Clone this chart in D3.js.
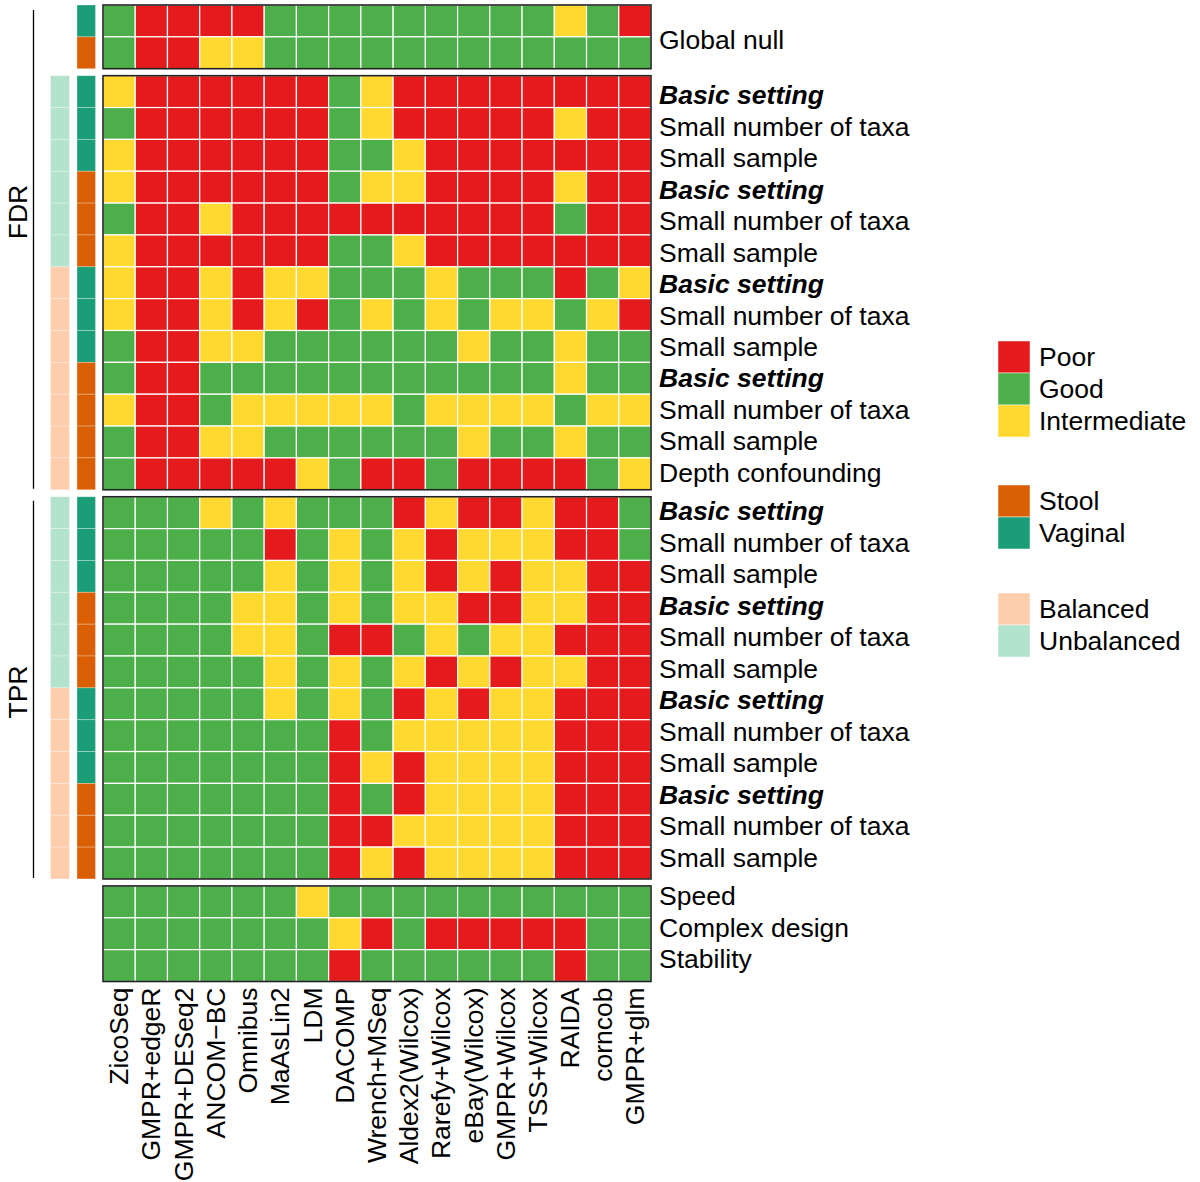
<!DOCTYPE html>
<html>
<head>
<meta charset="utf-8">
<script src="https://cdn.jsdelivr.net/npm/d3@7"></script>
<style>
body { margin: 0; background: #fff; }
svg text { font-family: "Liberation Sans", Arial, Helvetica, sans-serif; fill: #000; }
.cell { stroke: #fff; stroke-width: 1.2; }
.frame { fill: none; stroke: #222; stroke-width: 1.6; }
</style>
</head>
<body>
<div id="chart"></div>
<script>
// methods (columns)
var methods = ["ZicoSeq", "GMPR+edgeR", "GMPR+DESeq2", "ANCOM\u2212BC", "Omnibus", "MaAsLin2", "LDM",
  "DACOMP", "Wrench+MSeq", "Aldex2(Wilcox)", "Rarefy+Wilcox", "eBay(Wilcox)", "GMPR+Wilcox",
  "TSS+Wilcox", "RAIDA", "corncob", "GMPR+glm"];

// P = Poor, G = Good, I = Intermediate
var globalNull = ["GPPPPGGGGGGGGGIGP", "GPPIIGGGGGGGGGGGG"];
var globalSample = ["Vaginal", "Stool"];

var fdrRows = [
  "IPPPPPPGIPPPPPPPP", "GPPPPPPGIPPPPPIPP", "IPPPPPPGGIPPPPPPP",
  "IPPPPPPGIIPPPPIPP", "GPPIPPPPPPPPPPGPP", "IPPPPPPGGIPPPPPPP",
  "IPPIPIIGGGIGGGPGI", "IPPIPIPGIGIGIIGIP", "GPPIIGGGGGGIGGIGG",
  "GPPGGGGGGGGGGGIGG", "IPPGIIIIIGIIIIGII", "GPPIIGGGGGGIGGIGG",
  "GPPPPPIGPPGPPPPGI"];
var fdrLabels = ["Basic setting", "Small number of taxa", "Small sample",
  "Basic setting", "Small number of taxa", "Small sample",
  "Basic setting", "Small number of taxa", "Small sample",
  "Basic setting", "Small number of taxa", "Small sample", "Depth confounding"];
var fdrSample = ["Vaginal", "Vaginal", "Vaginal", "Stool", "Stool", "Stool",
  "Vaginal", "Vaginal", "Vaginal", "Stool", "Stool", "Stool", "Stool"];
var fdrBalance = ["Unbalanced", "Unbalanced", "Unbalanced", "Unbalanced", "Unbalanced", "Unbalanced",
  "Balanced", "Balanced", "Balanced", "Balanced", "Balanced", "Balanced", "Balanced"];

var tprRows = [
  "GGGIGIGGGPIPPIPPG", "GGGGGPGIGIPIIIPPG", "GGGGGIGIGIPIPIIPP",
  "GGGGIIGIGIIPPIIPP", "GGGGIIGPPGIGIIPPP", "GGGGGIGIGIPIPIIPP",
  "GGGGGIGIGPIPIIPPP", "GGGGGGGPGIIIIIPPP", "GGGGGGGPIPIIIIPPP",
  "GGGGGGGPGPIIIIPPP", "GGGGGGGPPIIIIIPPP", "GGGGGGGPIPIIIIPPP"];
var tprLabels = fdrLabels.slice(0, 12);
var tprSample = fdrSample.slice(0, 12);
var tprBalance = ["Unbalanced", "Unbalanced", "Unbalanced", "Unbalanced", "Unbalanced", "Unbalanced",
  "Balanced", "Balanced", "Balanced", "Balanced", "Balanced", "Balanced"];

var extraRows = ["GGGGGGIGGGGGGGGGG", "GGGGGGGIPGPPPPPGG", "GGGGGGGPGGGGGGPGG"];
var extraLabels = ["Speed", "Complex design", "Stability"];

var levels = ["Poor", "Good", "Intermediate"];
var codes = {P: "Poor", G: "Good", I: "Intermediate"};
var sampleTypes = ["Stool", "Vaginal"];
var balanceTypes = ["Balanced", "Unbalanced"];

var width = 1200, height = 1182;
var rowH = 31.85, gap = 7, top0 = 5;
var fs = 26.5;

var perfColor = d3.scaleOrdinal().domain(levels).range(["#E41A1C", "#4DAF4A", "#FFD92F"]);
var sampleColor = d3.scaleOrdinal().domain(sampleTypes).range(["#D95F02", "#1B9E77"]);
var balanceColor = d3.scaleOrdinal().domain(balanceTypes).range(["#FDCDAC", "#B3E2CD"]);

var x = d3.scaleBand().domain(methods).range([103, 651]);

// row labels sit a touch tighter than the rows themselves
function labelY(yc) { return yc + 3.5 - 0.0115 * (yc - 92); }

var svg = d3.select("#chart").append("svg")
  .attr("width", width).attr("height", height);

// blocks of the heatmap, stacked vertically
var blocks = [
  {rows: globalNull, labels: null, sample: globalSample, balance: null},
  {rows: fdrRows, labels: fdrLabels, sample: fdrSample, balance: fdrBalance},
  {rows: tprRows, labels: tprLabels, sample: tprSample, balance: tprBalance},
  {rows: extraRows, labels: extraLabels, sample: null, balance: null}
];

var yTop = top0;
blocks.forEach(function(b) {
  var idx = d3.range(b.rows.length);
  b.y = d3.scaleBand().domain(idx).range([yTop, yTop + b.rows.length * rowH]);
  b.top = yTop;
  b.bottom = yTop + b.rows.length * rowH;
  yTop = b.bottom + gap;

  var g = svg.append("g");
  var cells = [];
  b.rows.forEach(function(r, i) {
    r.split("").forEach(function(c, j) {
      cells.push({row: i, method: methods[j], value: codes[c]});
    });
  });
  g.selectAll("rect.cell").data(cells).enter().append("rect")
    .attr("class", "cell")
    .attr("x", function(d) { return x(d.method); })
    .attr("y", function(d) { return b.y(d.row); })
    .attr("width", x.bandwidth())
    .attr("height", b.y.bandwidth())
    .attr("fill", function(d) { return perfColor(d.value); });
  g.append("rect").attr("class", "frame")
    .attr("x", x.range()[0]).attr("y", b.top)
    .attr("width", x.range()[1] - x.range()[0]).attr("height", b.bottom - b.top);

  // annotation columns
  if (b.sample) {
    svg.append("g").selectAll("rect").data(b.sample).enter().append("rect")
      .attr("x", 77).attr("width", 18.5)
      .attr("y", function(d, i) { return b.y(i); })
      .attr("height", b.y.bandwidth())
      .attr("fill", function(d) { return sampleColor(d); })
      .attr("stroke", "rgba(255,255,255,0.35)").attr("stroke-width", 0.8);
  }
  if (b.balance) {
    svg.append("g").selectAll("rect").data(b.balance).enter().append("rect")
      .attr("x", 50.5).attr("width", 19)
      .attr("y", function(d, i) { return b.y(i); })
      .attr("height", b.y.bandwidth())
      .attr("fill", function(d) { return balanceColor(d); })
      .attr("stroke", "rgba(255,255,255,0.35)").attr("stroke-width", 0.8);
  }

  // row labels
  if (b.labels) {
    svg.append("g").selectAll("text").data(b.labels).enter().append("text")
      .attr("x", 659)
      .attr("y", function(d, i) { return labelY(b.y(i) + b.y.bandwidth() / 2); })
      .attr("dominant-baseline", "central")
      .style("font-size", fs + "px")
      .style("font-weight", function(d) { return d === "Basic setting" ? "bold" : "normal"; })
      .style("font-style", function(d) { return d === "Basic setting" ? "italic" : "normal"; })
      .text(function(d) { return d; });
  }
});

// global null label spans the whole first block
svg.append("text")
  .attr("x", 659).attr("y", (blocks[0].top + blocks[0].bottom) / 2 + 3.5)
  .attr("dominant-baseline", "central")
  .style("font-size", fs + "px")
  .text("Global null");

// FDR / TPR group lines and titles
var groups = [
  {name: "FDR", y0: 10, y1: blocks[1].bottom - 1, ty: 212},
  {name: "TPR", y0: blocks[2].top + 4, y1: blocks[2].bottom - 1, ty: 692}
];
groups.forEach(function(gr) {
  svg.append("line")
    .attr("x1", 33.5).attr("x2", 33.5).attr("y1", gr.y0).attr("y2", gr.y1)
    .attr("stroke", "#000").attr("stroke-width", 1.3);
  svg.append("text")
    .attr("transform", "translate(18," + gr.ty + ") rotate(-90)")
    .attr("text-anchor", "middle")
    .attr("dominant-baseline", "central")
    .style("font-size", fs + "px")
    .text(gr.name);
});

// column labels
svg.append("g").selectAll("text").data(methods).enter().append("text")
  .attr("transform", function(d) {
    return "translate(" + (x(d) + x.bandwidth() / 2) + "," + (blocks[3].bottom + 6) + ") rotate(-90)";
  })
  .attr("text-anchor", "end")
  .attr("dominant-baseline", "central")
  .style("font-size", fs + "px")
  .text(function(d) { return d; });

// legends
var legends = [
  {items: levels, color: perfColor, y: 341},
  {items: sampleTypes, color: sampleColor, y: 485},
  {items: balanceTypes, color: balanceColor, y: 593}
];
legends.forEach(function(lg) {
  var g = svg.append("g").attr("transform", "translate(998," + lg.y + ")");
  var item = g.selectAll("g").data(lg.items).enter().append("g")
    .attr("transform", function(d, i) { return "translate(0," + (i * 32) + ")"; });
  item.append("rect")
    .attr("width", 32).attr("height", 32)
    .attr("fill", function(d) { return lg.color(d); })
    .attr("stroke", "rgba(255,255,255,0.6)").attr("stroke-width", 0.8);
  item.append("text")
    .attr("x", 41).attr("y", 16)
    .attr("dominant-baseline", "central")
    .style("font-size", fs + "px")
    .text(function(d) { return d; });
});
</script>
</body>
</html>
